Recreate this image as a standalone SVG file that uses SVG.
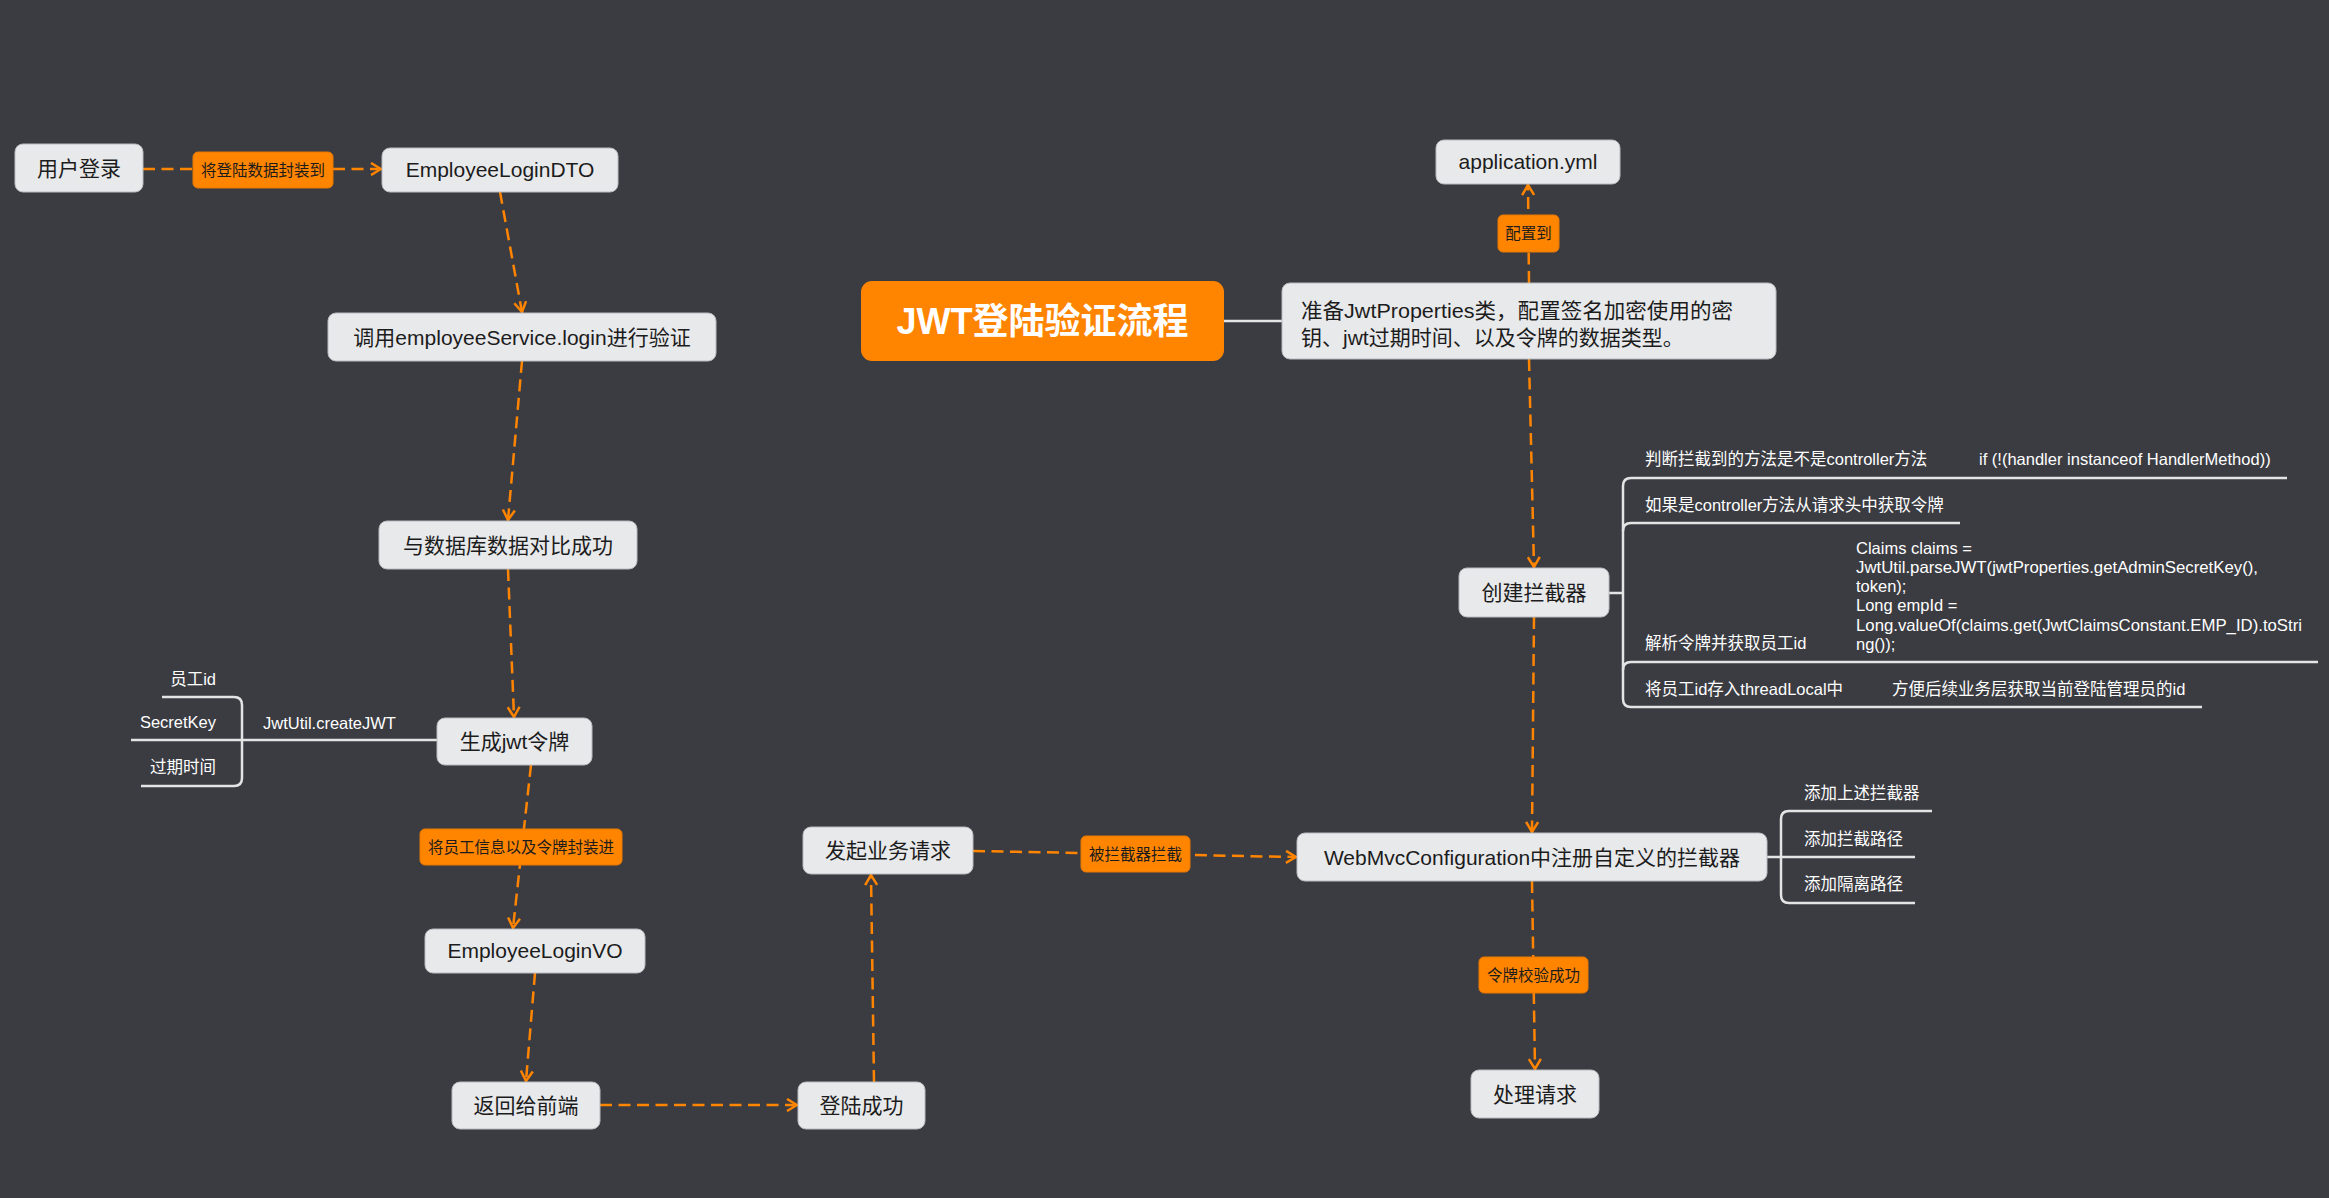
<svg xmlns="http://www.w3.org/2000/svg" width="2329" height="1198" viewBox="0 0 2329 1198">
<style>
.bg{fill:#3b3c42}
.node rect{fill:#e8e9eb;stroke:#b9bbbf;stroke-width:1}
.node text{font-family:"Liberation Sans","Noto Sans CJK SC",sans-serif;font-size:21px;fill:#1c1c1c;text-anchor:middle}
.lbl rect{fill:#ff8400;stroke:#e87800;stroke-width:1}
.lbl text{font-family:"Liberation Sans","Noto Sans CJK SC",sans-serif;font-size:15.5px;fill:#1c1c1c;text-anchor:middle}
.edge{fill:none;stroke:#ff8400;stroke-width:2.5;stroke-dasharray:12 6.5}
.arr{marker-end:url(#ah)}
.wl{fill:none;stroke:#e4e4e4;stroke-width:2.5}
.wt{font-family:"Liberation Sans","Noto Sans CJK SC",sans-serif;font-size:16.5px;fill:#ffffff}
.r{text-anchor:end}
</style>
<defs>
<marker id="ah" viewBox="0 0 12 14" refX="11" refY="7" markerWidth="12" markerHeight="14" markerUnits="userSpaceOnUse" orient="auto">
<path d="M1,1 L11,7 L1,13" fill="none" stroke="#ff8400" stroke-width="2.5"/>
</marker>
</defs>
<rect class="bg" x="0" y="0" width="2329" height="1198"/>

<g id="connectors">
<line class="wl" x1="1224" y1="321" x2="1282" y2="321"/>
<line class="edge" x1="143" y1="169" x2="193" y2="169"/>
<line class="edge arr" x1="333" y1="169" x2="381" y2="169"/>
<line class="edge arr" x1="500" y1="192" x2="522" y2="312"/>
<line class="edge arr" x1="522" y1="361" x2="508" y2="520"/>
<line class="edge arr" x1="508" y1="569" x2="514" y2="717"/>
<line class="edge arr" x1="531" y1="765" x2="513" y2="928"/>
<line class="edge arr" x1="535" y1="973" x2="526" y2="1081"/>
<line class="edge arr" x1="600" y1="1105" x2="797" y2="1105"/>
<line class="edge arr" x1="874" y1="1082" x2="871" y2="875"/>
<line class="edge arr" x1="973" y1="851" x2="1296" y2="857"/>
<line class="edge arr" x1="1529" y1="283" x2="1528" y2="185"/>
<line class="edge arr" x1="1529" y1="359" x2="1534" y2="567"/>
<line class="edge arr" x1="1534" y1="617" x2="1532" y2="832"/>
<line class="edge arr" x1="1532" y1="881" x2="1535" y2="1069"/>
</g>

<g id="tree-jwt">
<line class="wl" x1="242" y1="740" x2="437" y2="740"/>
<line class="wl" x1="131" y1="740" x2="242" y2="740"/>
<path class="wl" d="M162,697 H234 Q242,697 242,705 V778 Q242,786 234,786 H141"/>
<text class="wt" x="263" y="729">JwtUtil.createJWT</text>
<text class="wt r" x="216" y="685">员工id</text>
<text class="wt r" x="216" y="728">SecretKey</text>
<text class="wt r" x="216" y="773">过期时间</text>
</g>

<g id="tree-interceptor">
<line class="wl" x1="1609" y1="593" x2="1623" y2="593"/>
<path class="wl" d="M2287,478 H1631 Q1623,478 1623,486 V699 Q1623,707 1631,707 H2202"/>
<path class="wl" d="M1623,531 Q1623,523 1631,523 H1960"/>
<path class="wl" d="M1623,670 Q1623,662 1631,662 H2318"/>
<text class="wt" x="1645" y="465">判断拦截到的方法是不是controller方法</text>
<text class="wt" x="1979" y="465">if (!(handler instanceof HandlerMethod))</text>
<text class="wt" x="1645" y="511">如果是controller方法从请求头中获取令牌</text>
<text class="wt" x="1645" y="649">解析令牌并获取员工id</text>
<text class="wt" x="1856" y="554">Claims claims =</text>
<text class="wt" x="1856" y="573" textLength="402" lengthAdjust="spacingAndGlyphs">JwtUtil.parseJWT(jwtProperties.getAdminSecretKey(),</text>
<text class="wt" x="1856" y="592">token);</text>
<text class="wt" x="1856" y="611">Long empId =</text>
<text class="wt" x="1856" y="631" textLength="446" lengthAdjust="spacingAndGlyphs">Long.valueOf(claims.get(JwtClaimsConstant.EMP_ID).toStri</text>
<text class="wt" x="1856" y="650">ng());</text>
<text class="wt" x="1645" y="695">将员工id存入threadLocal中</text>
<text class="wt" x="1892" y="695">方便后续业务层获取当前登陆管理员的id</text>
</g>

<g id="tree-webmvc">
<line class="wl" x1="1767" y1="857" x2="1915" y2="857"/>
<path class="wl" d="M1932,811 H1789 Q1781,811 1781,819 V895 Q1781,903 1789,903 H1915"/>
<text class="wt" x="1804" y="799">添加上述拦截器</text>
<text class="wt" x="1804" y="845">添加拦截路径</text>
<text class="wt" x="1804" y="890">添加隔离路径</text>
</g>

<g id="title">
<rect x="861" y="281" width="363" height="80" rx="11" fill="#ff8400"/>
<text x="1042.5" y="334" font-family="'Liberation Sans','Noto Sans CJK SC',sans-serif" font-size="36" font-weight="bold" fill="#ffffff" text-anchor="middle">JWT登陆验证流程</text>
</g>

<g id="n-prepare" class="node">
<rect x="1282" y="283" width="494" height="76" rx="8"/>
<text x="1301" y="318" style="text-anchor:start" textLength="432" lengthAdjust="spacingAndGlyphs">准备JwtProperties类，配置签名加密使用的密</text>
<text x="1301" y="345" style="text-anchor:start">钥、jwt过期时间、以及令牌的数据类型。</text>
</g>
<g id="n-appyml" class="node"><rect x="1436" y="140" width="184" height="44" rx="8"/><text x="1528" y="169">application.yml</text></g>
<g id="n-create" class="node"><rect x="1459" y="568" width="150" height="49" rx="8"/><text x="1534" y="600">创建拦截器</text></g>
<g id="n-webmvc" class="node"><rect x="1297" y="833" width="470" height="48" rx="8"/><text x="1532" y="864.5">WebMvcConfiguration中注册自定义的拦截器</text></g>
<g id="n-handle" class="node"><rect x="1471" y="1070" width="128" height="48" rx="8"/><text x="1535" y="1101.5">处理请求</text></g>
<g id="n-login" class="node"><rect x="15" y="144" width="128" height="48" rx="8"/><text x="79" y="175.5">用户登录</text></g>
<g id="n-dto" class="node"><rect x="382" y="148" width="236" height="44" rx="8"/><text x="500" y="177">EmployeeLoginDTO</text></g>
<g id="n-service" class="node"><rect x="328" y="313" width="388" height="48" rx="8"/><text x="522" y="344.5">调用employeeService.login进行验证</text></g>
<g id="n-compare" class="node"><rect x="379" y="521" width="258" height="48" rx="8"/><text x="508" y="552.5">与数据库数据对比成功</text></g>
<g id="n-gen" class="node"><rect x="437" y="718" width="155" height="47" rx="8"/><text x="514.5" y="749">生成jwt令牌</text></g>
<g id="n-vo" class="node"><rect x="425" y="929" width="220" height="44" rx="8"/><text x="535" y="958">EmployeeLoginVO</text></g>
<g id="n-return" class="node"><rect x="452" y="1082" width="148" height="47" rx="8"/><text x="526" y="1113">返回给前端</text></g>
<g id="n-success" class="node"><rect x="798" y="1082" width="127" height="47" rx="8"/><text x="861.5" y="1113">登陆成功</text></g>
<g id="n-request" class="node"><rect x="803" y="827" width="170" height="47" rx="8"/><text x="888" y="858">发起业务请求</text></g>

<g id="l-wrap" class="lbl"><rect x="193" y="152" width="140" height="36" rx="5"/><text x="263" y="175.5">将登陆数据封装到</text></g>
<g id="l-pack" class="lbl"><rect x="420" y="829" width="202" height="36" rx="5"/><text x="521" y="852.5">将员工信息以及令牌封装进</text></g>
<g id="l-intercept" class="lbl"><rect x="1081" y="836" width="109" height="36" rx="5"/><text x="1135.5" y="859.5">被拦截器拦截</text></g>
<g id="l-config" class="lbl"><rect x="1498" y="215" width="61" height="37" rx="5"/><text x="1528.5" y="239">配置到</text></g>
<g id="l-valid" class="lbl"><rect x="1479" y="957" width="109" height="36" rx="5"/><text x="1533.5" y="980.5">令牌校验成功</text></g>
</svg>
